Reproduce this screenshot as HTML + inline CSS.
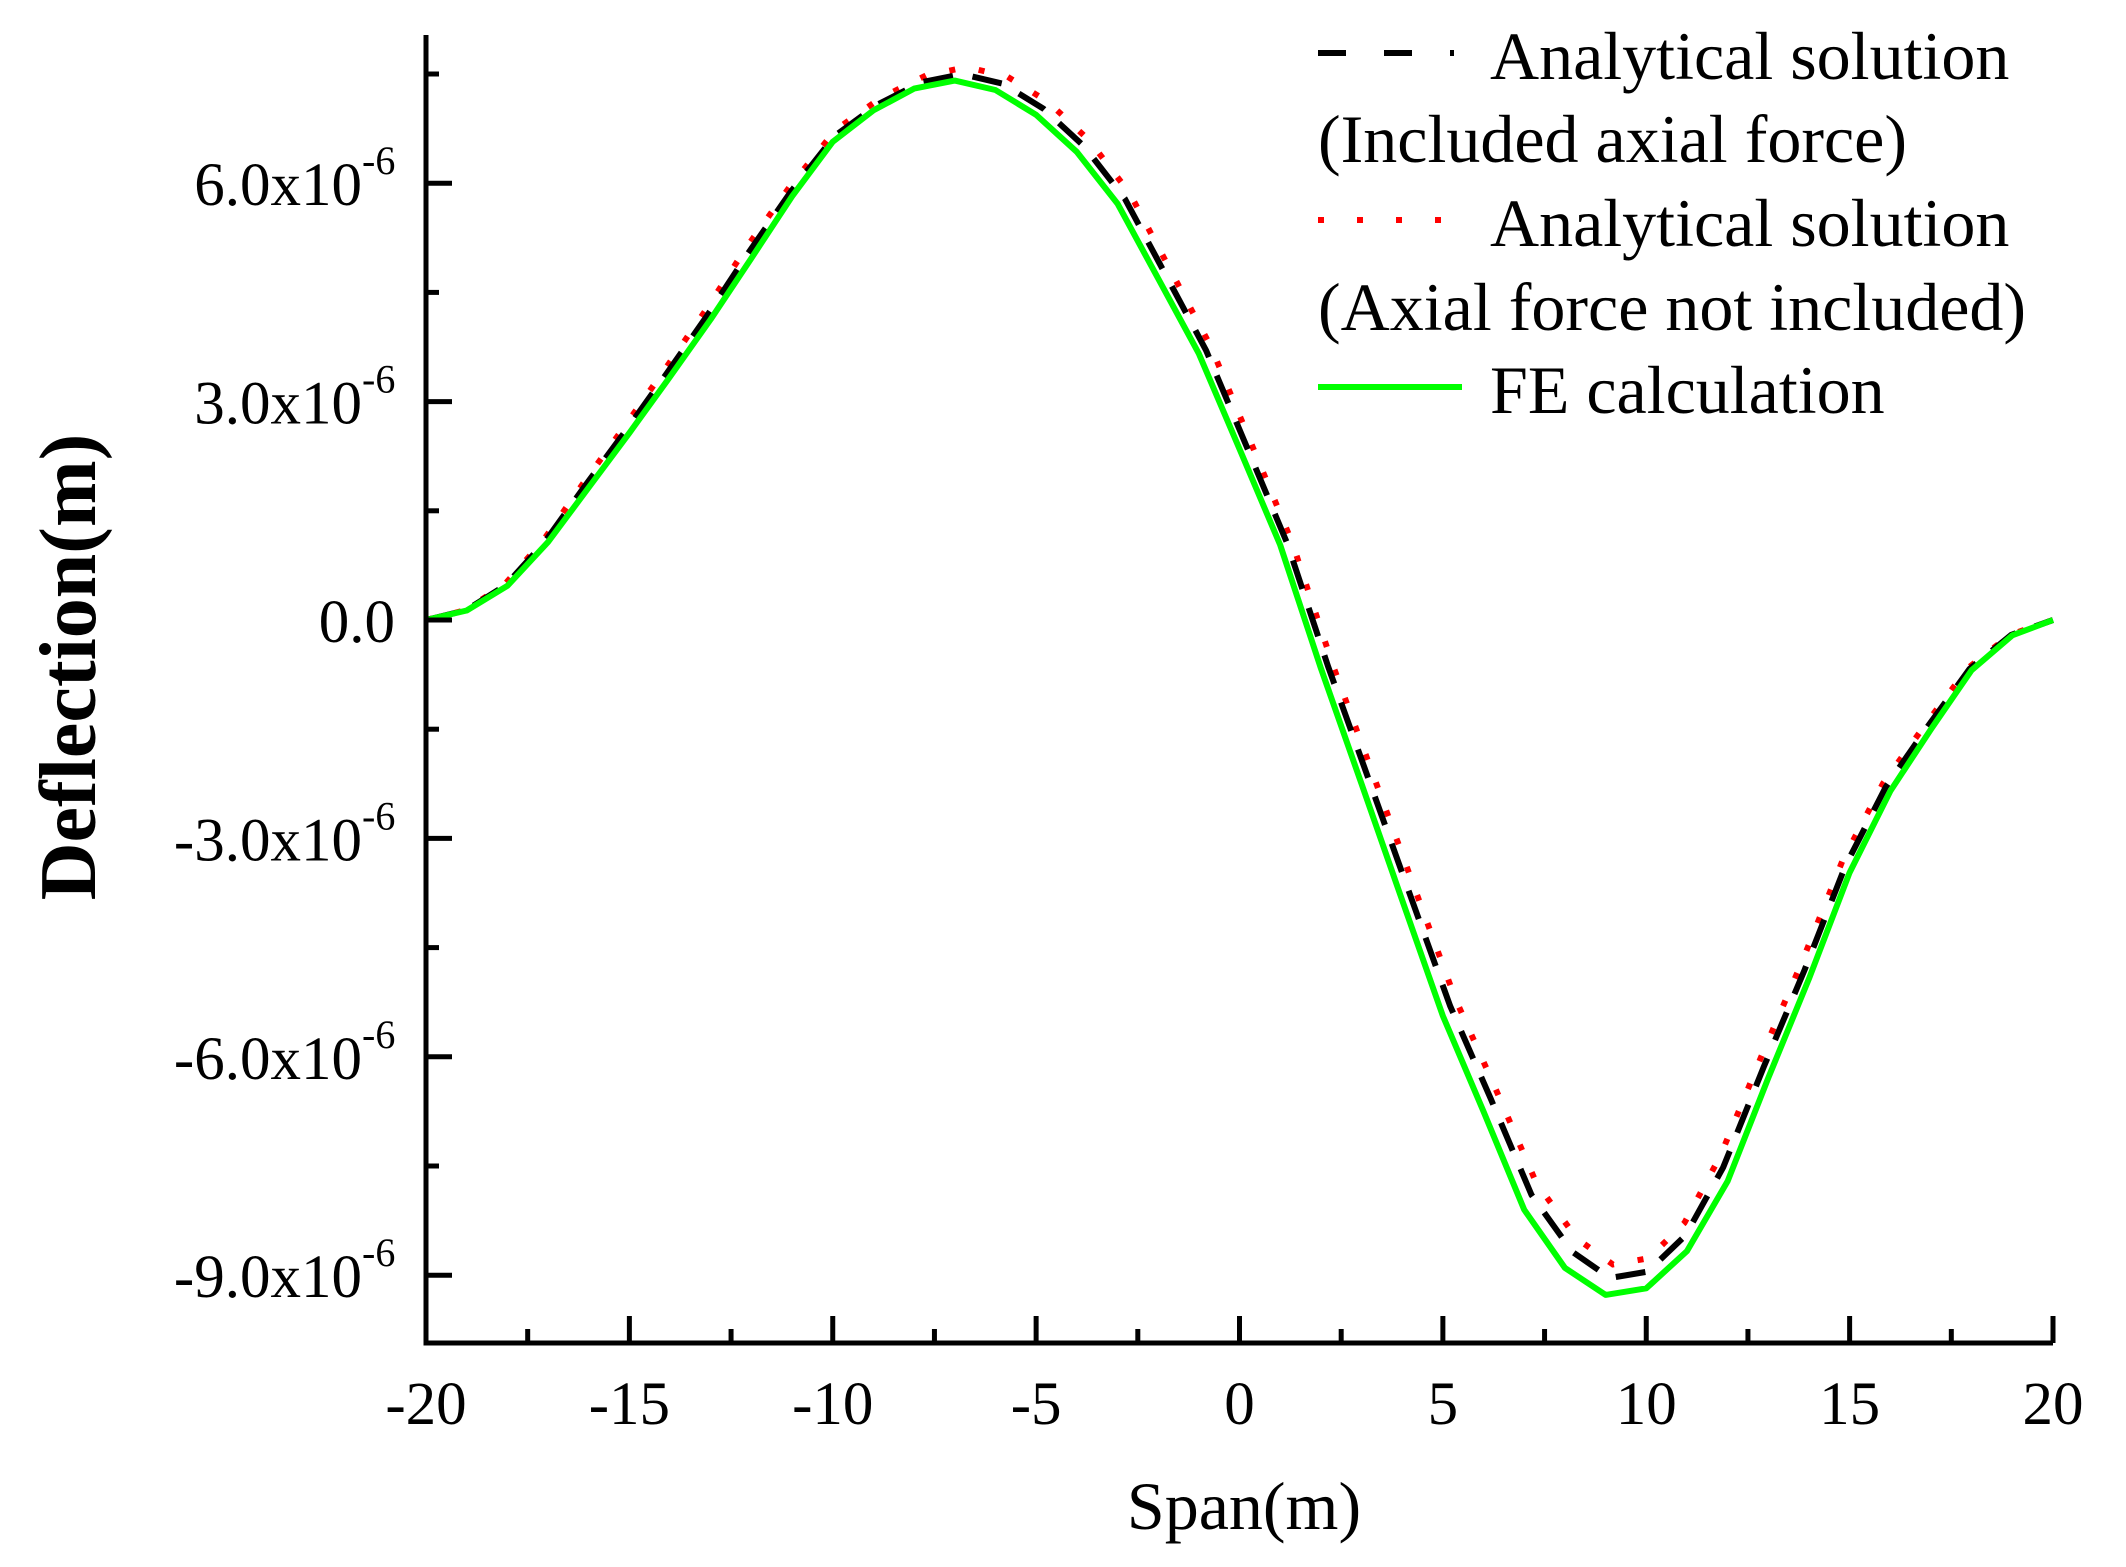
<!DOCTYPE html>
<html><head><meta charset="utf-8"><style>
html,body{margin:0;padding:0;background:#fff;}
svg{display:block;}
text{font-family:"Liberation Serif",serif;fill:#000;}
</style></head><body>
<svg id="s" width="2126" height="1567" viewBox="0 0 2126 1567" xmlns="http://www.w3.org/2000/svg">
<g id="curves"></g>
<g id="axes" stroke="#000" stroke-width="5" fill="none"></g>
<g font-size="61" id="ylab" text-anchor="end"></g>
<g font-size="61" id="xlab" text-anchor="middle"></g>
<text x="1244" y="1529" font-size="68" text-anchor="middle">Span(m)</text>
<text transform="translate(95,667) rotate(-90)" font-size="80" font-weight="bold" text-anchor="middle">Deflection(m)</text>
<g font-size="68">
<line x1="1318" y1="53" x2="1462" y2="53" stroke="#000" stroke-width="6" stroke-dasharray="28 38 28 38 4 40"/>
<text x="1490" y="79">Analytical solution</text>
<text x="1318" y="162">(Included axial force)</text>
<line x1="1318" y1="220" x2="1462" y2="220" stroke="#f00" stroke-width="6" stroke-dasharray="6 33"/>
<text x="1490" y="246">Analytical solution</text>
<text x="1318" y="330">(Axial force not included)</text>
<line x1="1318" y1="387" x2="1462" y2="387" stroke="#0f0" stroke-width="6"/>
<text x="1490" y="413">FE calculation</text>
</g>
</svg>
<script>
var NS="http://www.w3.org/2000/svg";
function X(v){return 426+(v+20)*40.675;}
function Y(v){return 620-v*72.8;}
var g=[0,0.13,0.47,1.07,1.82,2.57,3.34,4.13,4.97,5.82,6.57,7.0,7.3,7.41,7.28,6.94,6.43,5.72,4.69,3.66,2.35,1.03,-0.66,-2.25,-3.85,-5.44,-6.75,-8.1,-8.9,-9.27,-9.18,-8.67,-7.71,-6.29,-4.93,-3.47,-2.35,-1.5,-0.69,-0.21,0];
function shift(x,a){ if(x<-12) return -a*0.5*Math.min(1,(x+20)/4); if(x<-8) return -a*0.5+(x+12)/4*a*1.5; if(x<8) return a; if(x<12) return a-(x-8)/4*a*1.6; return -a*0.6*Math.min(1,(20-x)/4);}
function path(a,pos,neg){var d="";for(var i=0;i<g.length;i++){var x=i-20,v=g[i];if(i>0&&i<g.length-1){x+=shift(x,a);v=v>0?v*pos:v*neg;}d+=(i?"L":"M")+X(x).toFixed(1)+","+Y(v).toFixed(1);}return d;}
function add(p,attrs){var e=document.createElementNS(NS,p);for(var k in attrs)e.setAttribute(k,attrs[k]);return e;}
var c=document.getElementById("curves");
c.appendChild(add("path",{d:path(0.3,1.025,0.955),fill:"none",stroke:"#f00","stroke-width":6,"stroke-dasharray":"6 24"}));
c.appendChild(add("path",{d:path(0.18,1.012,0.975),fill:"none",stroke:"#000","stroke-width":6,"stroke-dasharray":"30 20"}));
c.appendChild(add("path",{d:path(0,1,1),fill:"none",stroke:"#0f0","stroke-width":6,"stroke-linejoin":"round"}));
var a=document.getElementById("axes");
a.appendChild(add("path",{d:"M426,35V1343H2053"}));
for(var t=-20;t<=20;t+=2.5){var x=X(t);var maj=(t%5===0);a.appendChild(add("line",{x1:x,y1:1343,x2:x,y2:maj?1316:1329}));}
for(var k=-9;k<=7.5;k+=1.5){var y=Y(k);var maj=(Math.abs(k%3)<1e-9);a.appendChild(add("line",{x1:426,y1:y,x2:maj?452:439,y2:y}));}
var yl=document.getElementById("ylab");
[[6,"6.0x10"],[3,"3.0x10"],[0,"0.0"],[-3,"-3.0x10"],[-6,"-6.0x10"],[-9,"-9.0x10"]].forEach(function(p){
 var y=Y(p[0]);
 if(p[0]===0){var t=add("text",{x:395,y:y+22});t.textContent="0.0";yl.appendChild(t);}
 else{var t=add("text",{x:362,y:y+22});t.textContent=p[1];yl.appendChild(t);
 var s=add("text",{x:362,y:y-9,"font-size":40,"text-anchor":"start"});s.textContent="-6";yl.appendChild(s);}
});
var xl=document.getElementById("xlab");
for(var t=-20;t<=20;t+=5){var e=add("text",{x:X(t),y:1424});e.textContent=String(t);xl.appendChild(e);}
</script>
</body></html>
